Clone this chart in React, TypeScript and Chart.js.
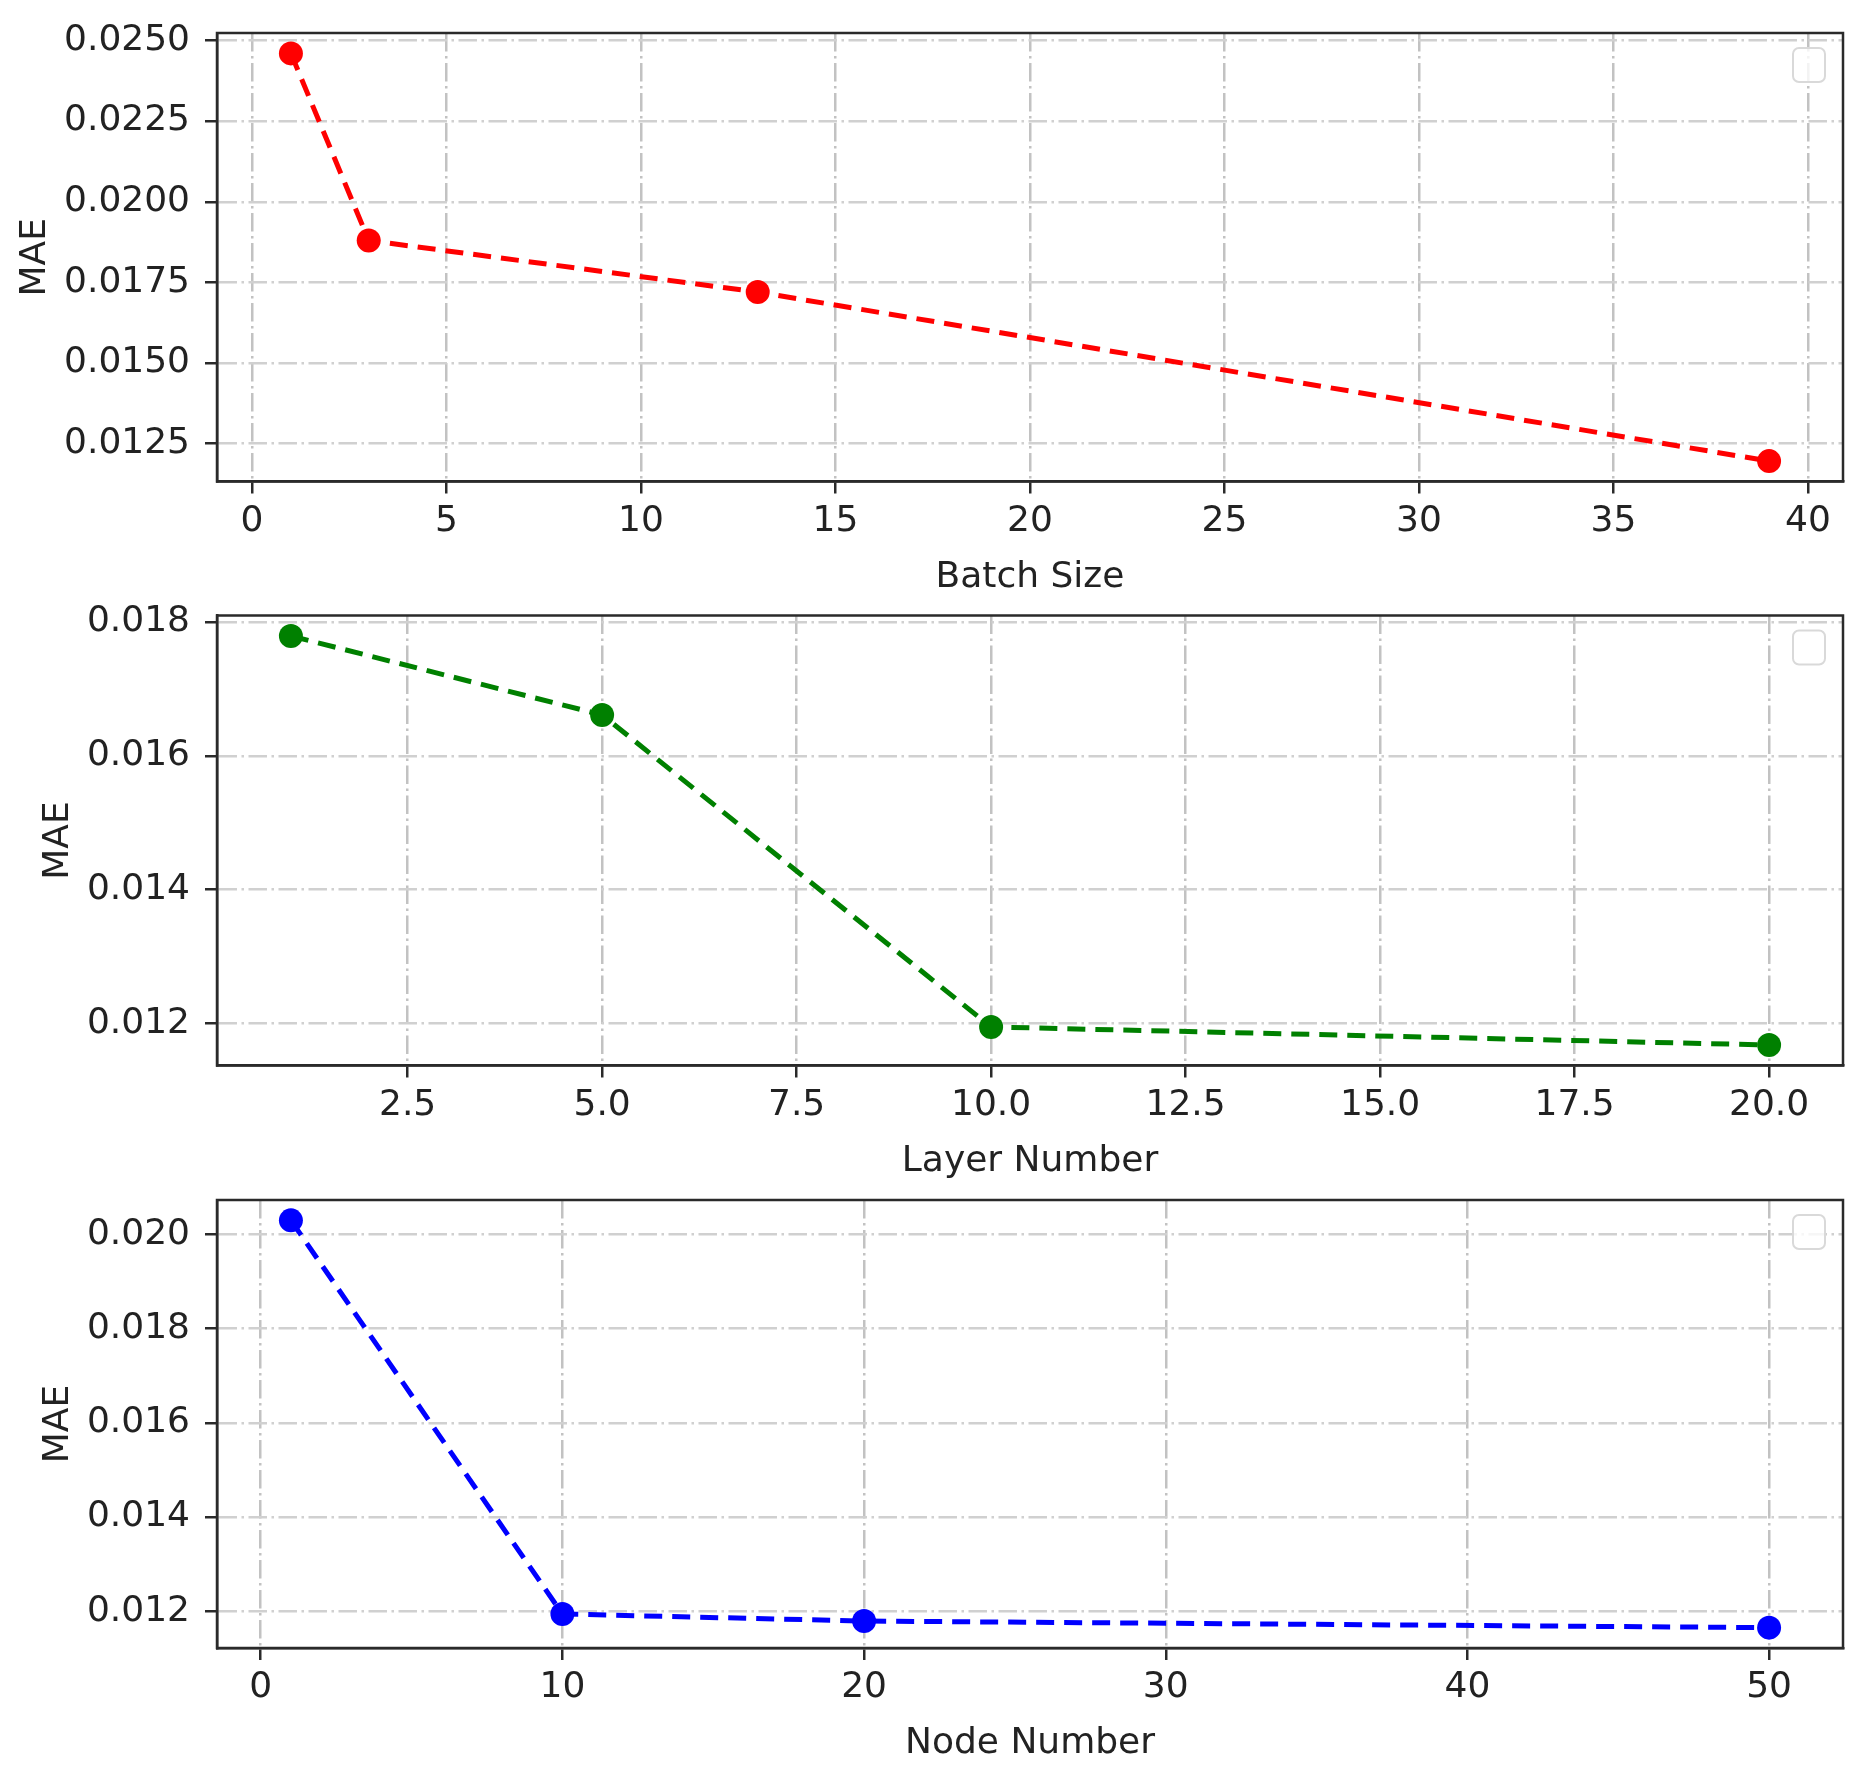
import React, { useEffect, useRef } from "react";
import Chart from "chart.js/auto";

const FONT_FAMILY = "'DejaVu Sans', 'Liberation Sans', sans-serif";
const FONT_SIZE = 36;
const TEXT_COLOR = "#222222";

// ---- Data ----
const batchSize = [1, 3, 13, 39];
const batchMAE = [0.0246, 0.0188, 0.0172, 0.01196];
const batchXTicks = [0, 5, 10, 15, 20, 25, 30, 35, 40];
const batchYTicks = [0.0125, 0.015, 0.0175, 0.02, 0.0225, 0.025];

const layerNumber = [1, 5, 10, 20];
const layerMAE = [0.01779, 0.01661, 0.01195, 0.01168];
const layerXTicks = [2.5, 5, 7.5, 10, 12.5, 15, 17.5, 20];
const layerYTicks = [0.012, 0.014, 0.016, 0.018];

const nodeNumber = [1, 10, 20, 50];
const nodeMAE = [0.0203, 0.01194, 0.01179, 0.01165];
const nodeXTicks = [0, 10, 20, 30, 40, 50];
const nodeYTicks = [0.012, 0.014, 0.016, 0.018, 0.02];

const xTitles = ["Batch Size", "Layer Number", "Node Number"];
const yTitle = "MAE";

// matplotlib-like 5% margins
function limits(arr: number[]): [number, number] {
  const mn = Math.min(...arr);
  const mx = Math.max(...arr);
  const m = (mx - mn) * 0.05;
  return [mn - m, mx + m];
}

type PanelSpec = {
  xs: number[];
  ys: number[];
  xTicks: number[];
  yTicks: number[];
  xDigits: number;
  yDigits: number;
  color: string;
  xTitle: string;
  top: number;
  height: number;
  padTop: number;
  xAxisH: number;
  xTitlePadBottom: number;
  yTitlePadTop: number;
};

const PLOT_LEFT = 217;
const PAD_RIGHT = 17;

const panels: PanelSpec[] = [
  {
    xs: batchSize, ys: batchMAE, xTicks: batchXTicks, yTicks: batchYTicks,
    xDigits: 0, yDigits: 4, color: "#ff0000", xTitle: xTitles[0],
    top: 0, height: 600, padTop: 33, xAxisH: 118.5, xTitlePadBottom: 0.5, yTitlePadTop: 14,
  },
  {
    xs: layerNumber, ys: layerMAE, xTicks: layerXTicks, yTicks: layerYTicks,
    xDigits: 1, yDigits: 3, color: "#008000", xTitle: xTitles[1],
    top: 600, height: 585, padTop: 15.5, xAxisH: 119.5, xTitlePadBottom: 2, yTitlePadTop: 37.5,
  },
  {
    xs: nodeNumber, ys: nodeMAE, xTicks: nodeXTicks, yTicks: nodeYTicks,
    xDigits: 0, yDigits: 3, color: "#0000ff", xTitle: xTitles[2],
    top: 1185, height: 589, padTop: 15, xAxisH: 126, xTitlePadBottom: 8.5, yTitlePadTop: 37.5,
  },
];

const framePlugin = {
  id: "frameAndLegendBox",
  afterDraw(chart: any) {
    const { ctx, chartArea } = chart;
    const { left, right, top, bottom } = chartArea;
    ctx.save();
    // empty legend frame
    const bw = 32, bh = 34;
    const bx = right - 50, by = top + 15;
    ctx.beginPath();
    if (ctx.roundRect) ctx.roundRect(bx, by, bw, bh, 6);
    else ctx.rect(bx, by, bw, bh);
    ctx.fillStyle = "rgba(255,255,255,0.8)";
    ctx.fill();
    ctx.lineWidth = 2;
    ctx.strokeStyle = "#d9d9d9";
    ctx.stroke();
    // spines
    ctx.lineWidth = 2.5;
    ctx.strokeStyle = "#2a2a2a";
    ctx.strokeRect(left, top, right - left, bottom - top);
    ctx.restore();
  },
};

function Panel({ spec }: { spec: PanelSpec }) {
  const ref = useRef<HTMLCanvasElement | null>(null);
  useEffect(() => {
    if (!ref.current) return;
    const [xmin, xmax] = limits(spec.xs);
    const [ymin, ymax] = limits(spec.ys);
    const gridDash = [18.5, 4.5, 2.5, 4.5];
    const chart = new Chart(ref.current, {
      type: "line",
      data: {
        datasets: [
          {
            data: spec.xs.map((x, i) => ({ x, y: spec.ys[i] })),
            borderColor: spec.color,
            backgroundColor: spec.color,
            borderWidth: 5,
            borderDash: [18, 10],
            pointRadius: 12,
            pointHoverRadius: 12,
            pointBorderWidth: 0,
            pointBackgroundColor: spec.color,
            tension: 0,
            fill: false,
            clip: false as any,
          },
        ],
      },
      options: {
        animation: false,
        responsive: false,
        events: [],
        devicePixelRatio: 1,
        layout: { padding: { left: 0, right: PAD_RIGHT, top: spec.padTop, bottom: 0 } },
        plugins: { legend: { display: false }, tooltip: { enabled: false } },
        scales: {
          x: {
            type: "linear",
            min: xmin,
            max: xmax,
            afterBuildTicks: (s: any) => {
              s.ticks = spec.xTicks.map((v) => ({ value: v }));
            },
            afterFit: (s: any) => {
              s.height = spec.xAxisH;
              s.paddingLeft = 0;
              s.paddingRight = 0;
              s.paddingTop = 0;
              s.paddingBottom = 0;
            },
            ticks: {
              includeBounds: false,
              autoSkip: false,
              maxRotation: 0,
              padding: 6.5,
              color: TEXT_COLOR,
              font: { family: FONT_FAMILY, size: FONT_SIZE },
              callback: (v: any) => Number(v).toFixed(spec.xDigits),
            },
            grid: {
              color: "#c2c2c2",
              lineWidth: 2.5,
              tickLength: 12,
              tickWidth: 2.5,
              tickColor: "#2a2a2a",
              tickBorderDash: [],
            } as any,
            border: { display: true, color: "#2a2a2a", width: 2.5, dash: gridDash },
            title: {
              display: true,
              text: spec.xTitle,
              color: TEXT_COLOR,
              font: { family: FONT_FAMILY, size: FONT_SIZE },
              padding: { top: 0, bottom: spec.xTitlePadBottom },
            },
          },
          y: {
            type: "linear",
            min: ymin,
            max: ymax,
            afterBuildTicks: (s: any) => {
              s.ticks = spec.yTicks.map((v) => ({ value: v }));
            },
            afterFit: (s: any) => {
              s.width = PLOT_LEFT;
              s.paddingLeft = 0;
              s.paddingRight = 0;
              s.paddingTop = 0;
              s.paddingBottom = 0;
            },
            ticks: {
              includeBounds: false,
              autoSkip: false,
              padding: 15,
              color: TEXT_COLOR,
              font: { family: FONT_FAMILY, size: FONT_SIZE },
              callback: (v: any) => Number(v).toFixed(spec.yDigits),
            },
            grid: {
              color: "#d0d0d0",
              lineWidth: 2.5,
              tickLength: 12,
              tickWidth: 2.5,
              tickColor: "#2a2a2a",
              tickBorderDash: [],
            } as any,
            border: { display: true, color: "#2a2a2a", width: 2.5, dash: gridDash },
            title: {
              display: true,
              text: yTitle,
              color: TEXT_COLOR,
              font: { family: FONT_FAMILY, size: FONT_SIZE },
              padding: { top: spec.yTitlePadTop, bottom: 0 },
            },
          },
        },
      } as any,
      plugins: [framePlugin],
    });
    return () => chart.destroy();
  }, [spec]);

  return (
    <div style={{ position: "absolute", left: 0, top: spec.top, width: 1860, height: spec.height }}>
      <canvas ref={ref} width={1860} height={spec.height} style={{ display: "block", width: 1860, height: spec.height }} />
    </div>
  );
}

export default function App() {
  return (
    <div
      style={{
        position: "absolute",
        left: 0,
        top: 0,
        width: 1860,
        height: 1774,
        background: "#ffffff",
        overflow: "hidden",
      }}
    >
      {panels.map((p, i) => (
        <Panel key={i} spec={p} />
      ))}
    </div>
  );
}
